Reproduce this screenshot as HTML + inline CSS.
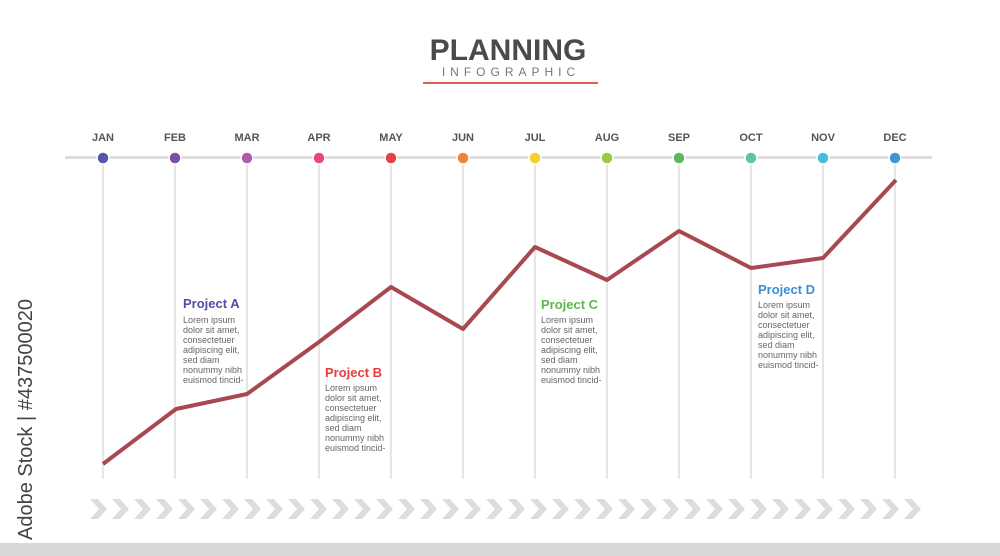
<!DOCTYPE html>
<html><head><style>
body{margin:0;width:1000px;height:556px;background:#fff;font-family:"Liberation Sans",sans-serif;overflow:hidden;position:relative}
.t{position:absolute;font-size:9px;color:#666;line-height:10px}
.h{position:absolute;font-size:13px;font-weight:bold}
</style></head><body>
<svg width="1000" height="556" style="position:absolute;left:0;top:0">
<defs><radialGradient id="sh" cx="0.5" cy="0" r="0.5"><stop offset="0" stop-color="#ccc"/><stop offset="1" stop-color="#fff" stop-opacity="0"/></radialGradient></defs>
<ellipse cx="510" cy="97" rx="300" ry="12" fill="url(#sh)"/>
<rect x="0" y="0" width="1000" height="97" fill="#fff"/>
<text x="508" y="60" text-anchor="middle" font-family="Liberation Sans" font-weight="bold" font-size="30" fill="#4a4a4a">PLANNING</text>
<text x="511" y="76" text-anchor="middle" font-family="Liberation Sans" font-size="12" fill="#777" letter-spacing="5">INFOGRAPHIC</text>
<rect x="423" y="82" width="175" height="2" fill="#e35a5a"/>
<rect x="65" y="156" width="867" height="3" fill="#ddd"/>
<g stroke="#d4d4d4" stroke-width="1.2">
<line x1="103" y1="158" x2="103" y2="479"/><line x1="175" y1="158" x2="175" y2="479"/><line x1="247" y1="158" x2="247" y2="479"/><line x1="319" y1="158" x2="319" y2="479"/><line x1="391" y1="158" x2="391" y2="479"/><line x1="463" y1="158" x2="463" y2="479"/><line x1="535" y1="158" x2="535" y2="479"/><line x1="607" y1="158" x2="607" y2="479"/><line x1="679" y1="158" x2="679" y2="479"/><line x1="751" y1="158" x2="751" y2="479"/><line x1="823" y1="158" x2="823" y2="479"/><line x1="895" y1="158" x2="895" y2="479"/>
</g>
<g font-family="Liberation Sans" font-weight="bold" font-size="11" fill="#555" text-anchor="middle">
<text x="103" y="141">JAN</text><text x="175" y="141">FEB</text><text x="247" y="141">MAR</text><text x="319" y="141">APR</text><text x="391" y="141">MAY</text><text x="463" y="141">JUN</text><text x="535" y="141">JUL</text><text x="607" y="141">AUG</text><text x="679" y="141">SEP</text><text x="751" y="141">OCT</text><text x="823" y="141">NOV</text><text x="895" y="141">DEC</text>
</g>
<g stroke="#fff" stroke-width="1.5">
<circle cx="103" cy="158" r="6" fill="#5558a8"/><circle cx="175" cy="158" r="6" fill="#7b4fa0"/><circle cx="247" cy="158" r="6" fill="#b05aa8"/><circle cx="319" cy="158" r="6" fill="#e8467c"/><circle cx="391" cy="158" r="6" fill="#e84045"/><circle cx="463" cy="158" r="6" fill="#f0843c"/><circle cx="535" cy="158" r="6" fill="#f5cf2c"/><circle cx="607" cy="158" r="6" fill="#9acb3c"/><circle cx="679" cy="158" r="6" fill="#5cb85c"/><circle cx="751" cy="158" r="6" fill="#5ec4a8"/><circle cx="823" cy="158" r="6" fill="#45bde0"/><circle cx="895" cy="158" r="6" fill="#3c98d4"/>
</g>
<polyline points="103,464 176,409 247,394 319,342 391,287 463,329 535,247 607,280 679,231 751,268 823,258 896,180" fill="none" stroke="#a84850" stroke-width="4" stroke-linejoin="round"/>
<g fill="#ddd" id="ch"></g>
<rect x="0" y="543" width="1000" height="13" fill="#d8d8d8"/>
<text transform="translate(32,540) rotate(-90)" font-family="Liberation Sans" font-size="20" fill="#444">Adobe Stock | #437500020</text>
</svg>
<div class="h" style="left:183px;top:296px;color:#4f4fa8">Project A</div>
<div class="t" style="left:183px;top:315px">Lorem ipsum<br>dolor sit amet,<br>consectetuer<br>adipiscing elit,<br>sed diam<br>nonummy nibh<br>euismod tincid-</div>
<div class="h" style="left:325px;top:365px;color:#e83a3a">Project B</div>
<div class="t" style="left:325px;top:383px">Lorem ipsum<br>dolor sit amet,<br>consectetuer<br>adipiscing elit,<br>sed diam<br>nonummy nibh<br>euismod tincid-</div>
<div class="h" style="left:541px;top:297px;color:#5cb84a">Project C</div>
<div class="t" style="left:541px;top:315px">Lorem ipsum<br>dolor sit amet,<br>consectetuer<br>adipiscing elit,<br>sed diam<br>nonummy nibh<br>euismod tincid-</div>
<div class="h" style="left:758px;top:282px;color:#3c8fd4">Project D</div>
<div class="t" style="left:758px;top:300px">Lorem ipsum<br>dolor sit amet,<br>consectetuer<br>adipiscing elit,<br>sed diam<br>nonummy nibh<br>euismod tincid-</div>
<svg width="1000" height="556" style="position:absolute;left:0;top:0">
<g fill="#ddd">
<path id="c" d="M0,0 h8 l9,10 l-9,10 h-8 l9,-10 z" transform="translate(90,499)"/>
</g>
<g fill="#ddd">
<path d="M112,499h8l9,10l-9,10h-8l9-10z"/><path d="M134,499h8l9,10l-9,10h-8l9-10z"/><path d="M156,499h8l9,10l-9,10h-8l9-10z"/><path d="M178,499h8l9,10l-9,10h-8l9-10z"/><path d="M200,499h8l9,10l-9,10h-8l9-10z"/><path d="M222,499h8l9,10l-9,10h-8l9-10z"/><path d="M244,499h8l9,10l-9,10h-8l9-10z"/><path d="M266,499h8l9,10l-9,10h-8l9-10z"/><path d="M288,499h8l9,10l-9,10h-8l9-10z"/><path d="M310,499h8l9,10l-9,10h-8l9-10z"/><path d="M332,499h8l9,10l-9,10h-8l9-10z"/><path d="M354,499h8l9,10l-9,10h-8l9-10z"/><path d="M376,499h8l9,10l-9,10h-8l9-10z"/><path d="M398,499h8l9,10l-9,10h-8l9-10z"/><path d="M420,499h8l9,10l-9,10h-8l9-10z"/><path d="M442,499h8l9,10l-9,10h-8l9-10z"/><path d="M464,499h8l9,10l-9,10h-8l9-10z"/><path d="M486,499h8l9,10l-9,10h-8l9-10z"/><path d="M508,499h8l9,10l-9,10h-8l9-10z"/><path d="M530,499h8l9,10l-9,10h-8l9-10z"/><path d="M552,499h8l9,10l-9,10h-8l9-10z"/><path d="M574,499h8l9,10l-9,10h-8l9-10z"/><path d="M596,499h8l9,10l-9,10h-8l9-10z"/><path d="M618,499h8l9,10l-9,10h-8l9-10z"/><path d="M640,499h8l9,10l-9,10h-8l9-10z"/><path d="M662,499h8l9,10l-9,10h-8l9-10z"/><path d="M684,499h8l9,10l-9,10h-8l9-10z"/><path d="M706,499h8l9,10l-9,10h-8l9-10z"/><path d="M728,499h8l9,10l-9,10h-8l9-10z"/><path d="M750,499h8l9,10l-9,10h-8l9-10z"/><path d="M772,499h8l9,10l-9,10h-8l9-10z"/><path d="M794,499h8l9,10l-9,10h-8l9-10z"/><path d="M816,499h8l9,10l-9,10h-8l9-10z"/><path d="M838,499h8l9,10l-9,10h-8l9-10z"/><path d="M860,499h8l9,10l-9,10h-8l9-10z"/><path d="M882,499h8l9,10l-9,10h-8l9-10z"/><path d="M904,499h8l9,10l-9,10h-8l9-10z"/>
</g>
</svg>
</body></html>
